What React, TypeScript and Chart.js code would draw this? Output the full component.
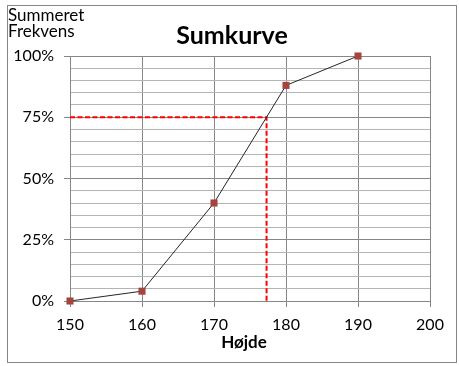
import React, { useEffect, useRef } from "react";
import { Chart, registerables } from "chart.js";

Chart.register(...registerables);

const heights = [150, 160, 170, 180, 190];
const cumulative = [0, 0.04, 0.4, 0.88, 1.0];
const readLevel = 0.75;
const readHeight = 177.3;
const xTicksMin = 150;
const xTicksMax = 200;
const titleText = "Sumkurve";
const xTitle = "Højde";
const yTitleLines = ["Summeret", "Frekvens"];

const FONT = "Lato, 'Liberation Sans', sans-serif";

const textPlugin = {
  id: "texts",
  beforeDraw(chart: any) {
    const ctx = chart.ctx;
    ctx.save();
    ctx.fillStyle = "#ffffff";
    ctx.fillRect(0, 0, chart.width, chart.height);
    ctx.restore();
  },
  afterDraw(chart: any) {
    const ctx = chart.ctx;
    ctx.save();
    ctx.strokeStyle = "#868686";
    ctx.lineWidth = 1;
    ctx.strokeRect(7.5, 5.5, 449, 357);
    ctx.fillStyle = "#000";
    ctx.textBaseline = "alphabetic";
    ctx.textAlign = "left";
    ctx.font = `17px ${FONT}`;
    ctx.fillText(yTitleLines[0], 8, 21);
    ctx.fillText(yTitleLines[1], 8, 37);
    ctx.textAlign = "center";
    ctx.font = `bold 25px ${FONT}`;
    ctx.fillText(titleText, 232, 44);
    ctx.font = `bold 17px ${FONT}`;
    ctx.fillText(xTitle, 244, 348);
    ctx.restore();
  },
};

export default function App() {
  const ref = useRef<HTMLCanvasElement | null>(null);
  useEffect(() => {
    if (!ref.current) return;
    const chart = new Chart(ref.current, {
      type: "scatter",
      data: {
        datasets: [
          {
            data: heights.map((h, i) => ({ x: h, y: cumulative[i] })),
            showLine: true,
            borderColor: "#262626",
            borderWidth: 1,
            pointStyle: "rect",
            pointRadius: 5,
            pointBackgroundColor: "#A5443F",
            pointBorderColor: "#A5443F",
            pointBorderWidth: 0,
            clip: false,
            order: 1,
          },
          {
            data: [
              { x: xTicksMin, y: readLevel },
              { x: readHeight, y: readLevel },
              { x: readHeight, y: 0 },
            ],
            showLine: true,
            borderColor: "#ff0000",
            borderWidth: 2,
            borderDash: [5, 2.5],
            pointRadius: 0,
            clip: false,
            order: 2,
          },
        ],
      },
      plugins: [textPlugin],
      options: {
        animation: false,
        responsive: false,
        maintainAspectRatio: false,
        layout: { padding: { left: 8, right: 29, top: 56, bottom: 0 } },
        plugins: {
          legend: { display: false },
          title: { display: false },
          tooltip: { enabled: false },
        },
        scales: {
          x: {
            type: "linear",
            min: xTicksMin,
            max: xTicksMax,
            afterFit: (s: any) => {
              s.height = 65;
            },
            ticks: {
              stepSize: 10,
              color: "#000",
              font: { family: FONT, size: 16 },
              padding: 8,
            },
            grid: {
              color: "#868686",
              tickLength: 6,
              lineWidth: 1,
            },
            border: { color: "#868686" },
          },
          y: {
            min: 0,
            max: 1,
            afterFit: (s: any) => {
              s.width = 62;
            },
            ticks: {
              stepSize: 0.05,
              color: "#000",
              font: { family: FONT, size: 16 },
              padding: 10,
              autoSkip: false,
              callback: (v: any) => {
                const p = Math.round(v * 100);
                return p % 25 === 0 ? p + "%" : "";
              },
            },
            grid: {
              color: (c: any) =>
                Math.round(c.tick.value * 100) % 25 === 0 ? "#868686" : "#b4b4b4",
              tickColor: (c: any) =>
                Math.round(c.tick.value * 100) % 25 === 0 ? "#868686" : "rgba(0,0,0,0)",
              tickLength: 6,
              lineWidth: 1,
            },
            border: { color: "#868686" },
          },
        },
      },
    });
    return () => chart.destroy();
  }, []);
  return (
    <div style={{ position: "absolute", left: 0, top: 0, width: 459, height: 366 }}>
      <canvas ref={ref} width={459} height={366} style={{ width: 459, height: 366 }} />
    </div>
  );
}
